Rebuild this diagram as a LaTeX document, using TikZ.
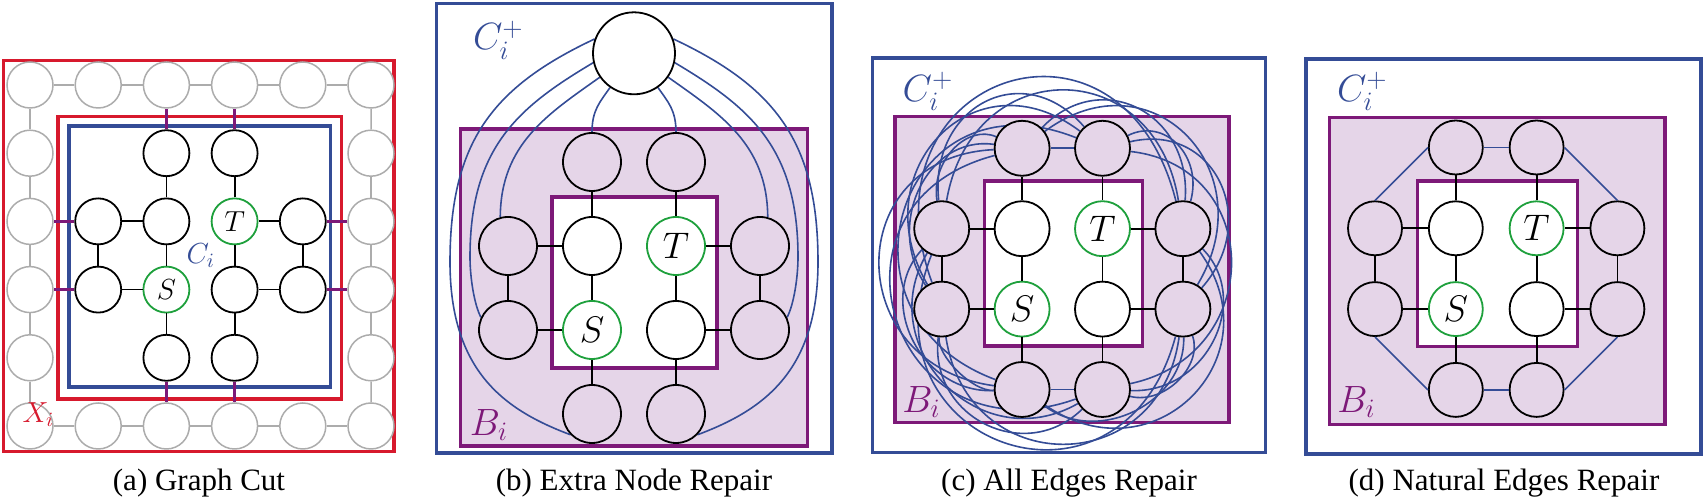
\RequirePackage{fix-cm}
\documentclass[tikz,border=0pt]{standalone}
\usepackage[no-math]{fontspec}
\setmainfont{Liberation Serif}
\usetikzlibrary{calc}
\definecolor{cred}{RGB}{215,25,45}
\definecolor{cblue}{RGB}{52,76,150}
\definecolor{cpurple}{RGB}{125,25,120}
\definecolor{cpink}{RGB}{229,213,232}
\definecolor{cgreen}{RGB}{30,160,60}
\definecolor{cgrey}{RGB}{172,172,172}
\pgfdeclarelayer{back}
\pgfdeclarelayer{mid}
\pgfsetlayers{back,mid,main}
\tikzset{
  blackedge/.style={draw=black,line width=0.9pt},
  greyedge/.style={draw=cgrey,line width=0.75pt},
  greynode/.style={circle,draw=cgrey,line width=0.75pt,fill=white,inner sep=0pt,minimum size=23pt},
  cutedge/.style={draw=cpurple,line width=1.7pt},
  redbox/.style={draw=cred,line width=1.7pt},
  bluebox/.style={draw=cblue,line width=1.6pt},
  pinkbox/.style={draw=cpurple,fill=cpink,line width=1.6pt},
  whitebox/.style={draw=cpurple,fill=white,line width=1.6pt},
  bluecurve/.style={draw=cblue,line width=0.8pt},
  lab/.style={inner sep=0pt,font=\fontsize{19}{19}\selectfont},
  labsmall/.style={inner sep=0pt,font=\fontsize{14.5}{14.5}\selectfont},
  caption/.style={anchor=base,inner sep=0pt,font=\fontsize{15.5}{18}\selectfont},
}
\newcommand\gridpanel[7]{%
  \foreach \i/\j/\fc/\col/\lab/\rk in {2/1/#7/black//2,3/1/#7/black//1,1/2/#7/black//3,2/2/white/black//i22,3/2/white/cgreen/$T$/i32,4/2/#7/black//0,1/3/#7/black//4,2/3/white/cgreen/$S$/i23,3/3/white/black//i33,4/3/#7/black//7,2/4/#7/black//5,3/4/#7/black//6}{%
    \node[circle,inner sep=0pt,minimum size=#5,draw=\col,fill=\fc,line width=0.9pt,font=\fontsize{#6}{#6}\selectfont] (#1\rk) at ({#2+(\i-1)*#4},{#3-(\j-1)*#4}) {\lab};
  }%
  \foreach \u/\v in {2/i22,1/i32,3/i22,i32/0,3/4,i22/i23,i32/i33,0/7,4/i23,i33/7,i23/5,i33/6}{%
    \draw[blackedge] (#1\u) -- (#1\v);
  }%
}
\begin{document}
\begin{tikzpicture}[x=0.5pt,y=0.5pt]
\useasboundingbox (0,0) rectangle (1704,502);
% ================= (a) Graph Cut
\begin{pgfonlayer}{back}
\draw[redbox] (3.3,50.3) rectangle (394,441.3);
\draw[redbox] (58,103) rectangle (341.7,385.3);
\draw[bluebox] (69,115) rectangle (330.7,376);
\end{pgfonlayer}
\foreach \i in {0,...,5}{
  \node[greynode] (g-\i-0) at ({30+68.2*\i},417) {};
  \node[greynode] (g-\i-5) at ({30+68.2*\i},76) {};
}
\foreach \j in {1,...,4}{
  \node[greynode] (g-0-\j) at (30,{417-68.2*\j}) {};
  \node[greynode] (g-5-\j) at (371,{417-68.2*\j}) {};
}
\foreach \i [evaluate=\i as \k using int(\i+1)] in {0,...,4}{
  \draw[greyedge] (g-\i-0) -- (g-\k-0);
  \draw[greyedge] (g-\i-5) -- (g-\k-5);
  \draw[greyedge] (g-0-\i) -- (g-0-\k);
  \draw[greyedge] (g-5-\i) -- (g-5-\k);
}
\gridpanel{a}{98.2}{348.8}{68.2}{23pt}{14.5}{white}
\foreach \u/\v in {2/g-2-0,1/g-3-0,3/g-0-2,4/g-0-3,0/g-5-2,7/g-5-3,5/g-2-5,6/g-3-5}{
  \draw[cutedge] (a\u) -- (\v);
}
\node[labsmall,text=cred] (xi) at (38.3,87.2) {$X_i$};
\node[labsmall,text=cblue] (ci) at (200.8,246.7) {$C_i$};
\node[caption] (capa) at (199,11) {(a) Graph Cut};
% ================= (b) Extra Node Repair
\begin{pgfonlayer}{back}
\draw[bluebox] (436.7,49) rectangle (832,498.7);
\draw[pinkbox] (460.7,56) rectangle (807.7,373);
\draw[whitebox] (552,134) rectangle (717,305);
\end{pgfonlayer}
\gridpanel{b}{508}{340}{84}{29pt}{18.5}{cpink}
\node[circle,draw=black,line width=0.9pt,fill=white,inner sep=0pt,minimum size=41pt] (bB) at (634,448.7) {};
\coordinate (bm3) at (470,245);
\coordinate (bm4) at (450,240);
\coordinate (bm7) at (798,245);
\coordinate (bm6) at (818,240);
\begin{pgfonlayer}{mid}
\draw[bluecurve] (bB.235) .. controls (600,400) and (592,392) .. (b2.north);
\draw[bluecurve] (bB.215) .. controls (548,388) and (500.7,358) .. (b3.105);
\draw[bluecurve] (bB.193) .. controls (518.8,395) and (470,355) .. (bm3) .. controls (470,225) and (474,198) .. (b4.155);
\draw[bluecurve] (bB.160) .. controls (492.5,415) and (450,360) .. (bm4) .. controls (450,130) and (505.3,91.7) .. (b5.224);
\draw[bluecurve] (bB.305) .. controls (668,400) and (676,392) .. (b1.north);
\draw[bluecurve] (bB.325) .. controls (720,388) and (767.3,358) .. (b0.75);
\draw[bluecurve] (bB.347) .. controls (749.2,395) and (798,355) .. (bm7) .. controls (798,225) and (794,198) .. (b7.25);
\draw[bluecurve] (bB.20) .. controls (775.5,415) and (818,360) .. (bm6) .. controls (818,130) and (762.7,91.7) .. (b6.316);
\end{pgfonlayer}
\node[lab,text=cblue] (cpb) at (498.3,462) {$C_i^+$};
\node[lab,text=cpurple] (bib) at (489,77) {$B_i$};
\node[caption] (capb) at (634,11) {(b) Extra Node Repair};
% ================= (c) All Edges Repair
\begin{pgfonlayer}{back}
\draw[bluebox] (872.7,49.3) rectangle (1265.7,444);
\draw[pinkbox] (895,79.3) rectangle (1229,385.3);
\draw[whitebox] (984.3,156) rectangle (1142.7,321);
\end{pgfonlayer}
\gridpanel{c}{941.7}{353.7}{80.4}{27.5pt}{18.5}{cpink}
\coordinate (cc) at (1063.5,241);
\begin{pgfonlayer}{mid}
\foreach \i/\g in {0/1,2/1,4/1,6/1,0/2,1/2,2/2,3/2,4/2,5/2,6/2,7/2,0/3,1/3,2/3,3/3,4/3,5/3,6/3,7/3,0/4,1/4,2/4,3/4}{
  \pgfmathtruncatemacro\jj{mod(\i+\g,8)}
  \pgfmathsetmacro\tA{{18.43,71.57,108.43,161.57,198.43,251.57,288.43,341.57}[\i]}
  \pgfmathsetmacro\tB{{18.43,71.57,108.43,161.57,198.43,251.57,288.43,341.57}[\jj]}
  \pgfmathsetmacro\dD{mod(\tB-\tA+360,360)}
  \pgfmathsetmacro\rR{80.4*(1.62+1.8*\dD/180)*(0.95+0.05*mod(\i+2*\g,3))}
  \pgfmathsetmacro\cA{\tA+0.33*\dD}
  \pgfmathsetmacro\cB{\tB-0.33*\dD}
  \draw[bluecurve] (c\i) .. controls ($(cc)+({0.95*\rR*cos(\cA)},{0.98*\rR*sin(\cA)})$) and ($(cc)+({0.95*\rR*cos(\cB)},{0.98*\rR*sin(\cB)})$) .. (c\jj);
}
\end{pgfonlayer}
\draw[bluecurve] (c2) -- (c1);
\draw[bluecurve] (c5) -- (c6);
\node[lab,text=cblue] (cpc) at (928,410.5) {$C_i^+$};
\node[lab,text=cpurple] (bic) at (921.5,100) {$B_i$};
\node[caption] (capc) at (1069,11) {(c) All Edges Repair};
% ================= (d) Natural Edges Repair
\begin{pgfonlayer}{back}
\draw[bluebox] (1306,48) rectangle (1701,443);
\draw[pinkbox] (1329.3,77.7) rectangle (1665,384.7);
\draw[whitebox] (1417.3,155.3) rectangle (1577.7,321);
\end{pgfonlayer}
\gridpanel{d}{1375}{354.5}{80.8}{27pt}{18.5}{cpink}
\draw[bluecurve] (d2) -- (d1);
\draw[bluecurve] (d5) -- (d6);
\draw[bluecurve] (d2.west) -- (d3.north);
\draw[bluecurve] (d1.east) -- (d0.north);
\draw[bluecurve] (d4.south) -- (d5.west);
\draw[bluecurve] (d6.east) -- (d7.south);
\node[lab,text=cblue] (cpd) at (1362.3,410.5) {$C_i^+$};
\node[lab,text=cpurple] (bid) at (1356.5,100) {$B_i$};
\node[caption] (capd) at (1504,11) {(d) Natural Edges Repair};
\end{tikzpicture}
\end{document}
